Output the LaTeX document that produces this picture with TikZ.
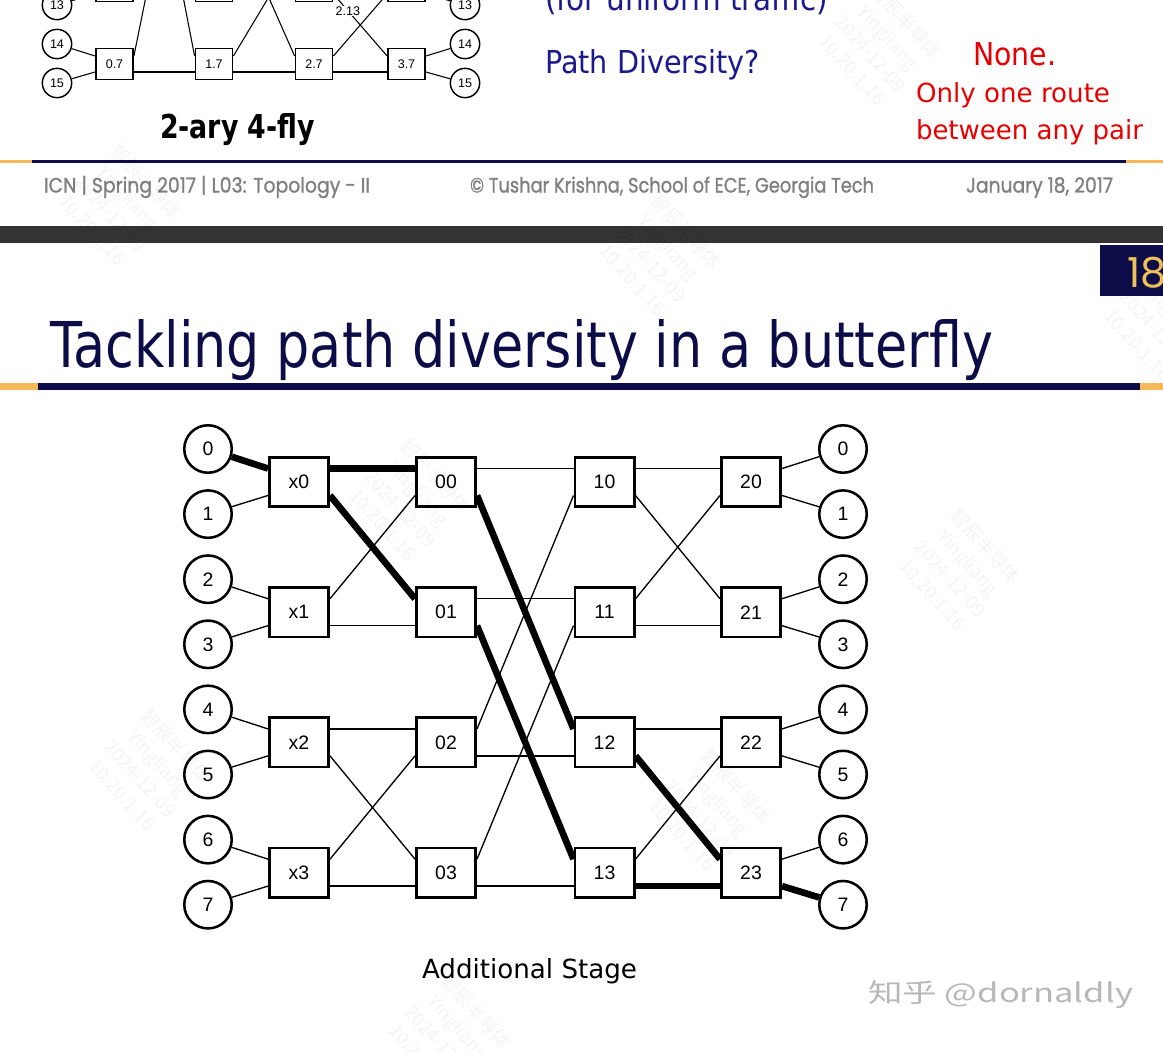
\documentclass[tikz,border=0pt]{standalone}
\usepackage{fontspec}
\usepackage{graphicx}
\setmainfont{DejaVu Sans}
\newfontfamily\helv{Liberation Sans}
\newfontfamily\gothic{Poppins}
\newfontfamily\gothicsb{Poppins}[FakeBold=1.2]
\newfontfamily\cjk{Noto Sans CJK SC}
\usetikzlibrary{calc}
\pgfdeclarelayer{paper}\pgfdeclarelayer{bg}\pgfdeclarelayer{fg}\pgfsetlayers{paper,bg,main,fg}
\newlength\pxu\setlength\pxu{0.75pt}
\newcommand\fitbox[3]{\resizebox{#1\pxu}{#2\pxu}{#3}}
\newcommand\fitw[2]{\resizebox{#1\pxu}{\height}{#2}}
\definecolor{slnavy}{RGB}{12,12,72}
\definecolor{slorange}{RGB}{247,184,90}
\definecolor{band}{RGB}{51,51,51}
\definecolor{footgray}{RGB}{128,128,128}
\definecolor{qblue}{RGB}{26,26,140}
\definecolor{ansred}{RGB}{232,0,0}
\definecolor{pggold}{RGB}{240,192,90}
\begin{document}
\begin{tikzpicture}[x=0.75pt,y=-0.75pt,
 term/.style={circle,draw,line width=1.9pt,minimum size=35.6pt,inner sep=0pt,fill=white,font=\helv\fontsize{14.6pt}{16pt}\selectfont},
 sw/.style={rectangle,draw,line width=1.9pt,minimum width=44.6pt,minimum height=37.1pt,inner sep=0pt,fill=white,font=\helv\fontsize{14.6pt}{16pt}\selectfont},
 sterm/.style={circle,draw,line width=1.1pt,minimum size=22pt,inner sep=0pt,fill=white,font=\helv\fontsize{9.4pt}{10pt}\selectfont},
 ssw/.style={rectangle,draw,line width=1.1pt,minimum width=28pt,minimum height=23pt,inner sep=0pt,fill=white,font=\helv\fontsize{9.4pt}{10pt}\selectfont},
 lnk/.style={line width=1pt},
 hot/.style={line width=5pt},
 slnk/.style={line width=0.8pt},
 txt/.style={anchor=base west,inner sep=0pt,outer sep=0pt},
 foot/.style={txt,text=footgray,font=\gothicsb\fontsize{15.6pt}{17pt}\selectfont},
 wm/.style={rotate=-48,align=center,text=black,text opacity=0.045,font=\cjk\fontsize{14pt}{18pt}\selectfont}
]
\useasboundingbox (0,0) rectangle (1163,1051);
\begin{pgfonlayer}{paper}
\fill[white] (0,0) rectangle (1163,1051);
\end{pgfonlayer}

% ---------- bars ----------
\fill[slorange] (0,159.5) rectangle (32,162.5);
\fill[slnavy] (32,159.5) rectangle (1126,162.5);
\fill[slorange] (1126,159.5) rectangle (1163,162.5);
\fill[band] (0,226) rectangle (1163,243);
\fill[slnavy] (1100,245) rectangle (1163,296);
\fill[slorange] (0,383) rectangle (38,390);
\fill[slnavy] (38,383) rectangle (1140,390);
\fill[slorange] (1140,383) rectangle (1163,390);

% ---------- texts of the upper slide ----------
\node[txt,text=qblue] (uni) at (545,10) {\fitbox{283}{25}{(for uniform traffic)}};
\node[txt,text=qblue] (pd) at (545,73) {\fitbox{215}{24}{Path Diversity?}};
\node[txt,text=ansred] (none) at (973,65) {\fitbox{83}{23}{None.}};
\node[txt,text=ansred] (only) at (916,102) {\fitbox{194}{20}{Only one route}};
\node[txt,text=ansred] (betw) at (916,139.5) {\fitbox{227}{20}{between any pair}};
\node[txt] (fly) at (160,138) {\fitbox{155}{25}{\bfseries 2-ary 4-fly}};
\node[foot] (f1) at (44,192.5) {\fitw{326}{ICN | Spring 2017 | L03: Topology - II}};
\node[foot] (f2) at (470,192.5) {\fitw{404}{© Tushar Krishna, School of ECE, Georgia Tech}};
\node[foot] (f3) at (966,192.5) {\fitw{147}{January 18, 2017}};

% ---------- lower slide texts ----------
\node[txt,text=pggold,font=\gothic\fontsize{31pt}{34pt}\selectfont] (pg) at (1127,287) {18};
\node[txt,text=slnavy] (title) at (50,367) {\fitbox{943}{48}{Tackling path diversity in a butterfly}};
\node[txt] (add) at (422,978) {\fitbox{215}{20}{Additional Stage}};
\node[txt,text=black!28,font=\cjk\fontsize{19.5pt}{22pt}\selectfont] (zh) at (868,1002) {\fitw{265}{知乎 @dornaldly}};

% ---------- top snippet: 2-ary 4-fly ----------
\node[sterm] (tl13) at (57,5) {13};
\node[sterm] (tl14) at (57,44) {14};
\node[sterm] (tl15) at (57,83) {15};
\node[sterm] (tr13) at (465,5) {13};
\node[sterm] (tr14) at (465,44) {14};
\node[sterm] (tr15) at (465,83) {15};
\node[ssw] (t06) at (114.5,-14) {0.6};
\node[ssw] (t07) at (114.5,64) {0.7};
\node[ssw] (t16) at (214,-14) {1.6};
\node[ssw] (t17) at (214,64) {1.7};
\node[ssw] (t26) at (314,-14) {2.6};
\node[ssw] (t27) at (314,64) {2.7};
\node[ssw] (t36) at (406.5,-14) {3.6};
\node[ssw] (t37) at (406.5,64) {3.7};
\foreach \n in {t06,t07,t16,t17,t26,t27,t36,t37} {
  \coordinate (\n-ul) at ([yshift=6pt]\n.west);
  \coordinate (\n-ll) at ([yshift=-6pt]\n.west);
  \coordinate (\n-ur) at ([yshift=6pt]\n.east);
  \coordinate (\n-lr) at ([yshift=-6pt]\n.east);
}
\coordinate (e1) at (194,-240);
\coordinate (e2) at (134,-256);
\coordinate (e3) at (279,-20);
\coordinate (e4) at (261,-20);

% ---------- bottom diagram ----------
\foreach \i in {0,...,7} {
  \node[term] (L\i) at (208,{449+65.1*\i}) {\i};
  \node[term] (R\i) at (843,{449+65.1*\i}) {\i};
}
\foreach \i in {0,...,3} {
  \node[sw] (X\i) at (299,{482+130.2*\i}) {x\i};
  \node[sw] (A\i) at (446,{482+130.2*\i}) {0\i};
  \node[sw] (B\i) at (604.5,{482+130.2*\i}) {1\i};
  \node[sw] (C\i) at (751,{482+130.2*\i}) {2\i};
}
\foreach \n in {X0,X1,X2,X3,A0,A1,A2,A3,B0,B1,B2,B3,C0,C1,C2,C3} {
  \coordinate (\n-ul) at ([yshift=10.1pt]\n.west);
  \coordinate (\n-ll) at ([yshift=-10.1pt]\n.west);
  \coordinate (\n-ur) at ([yshift=10.1pt]\n.east);
  \coordinate (\n-lr) at ([yshift=-10.1pt]\n.east);
}

\begin{pgfonlayer}{bg}
% top snippet links
\draw[slnk] (tl13) -- (t06-ll);
\draw[slnk] (tl14) -- (t07-ul);
\draw[slnk] (tl15) -- (t07-ll);
\draw[slnk] (t07-ur) -- (e1);
\draw[slnk] (e2) -- (t17-ul);
\draw[slnk] (t07-lr) -- (t17-ll);
\draw[slnk] (t17-ur) -- (e3);
\draw[slnk] (e4) -- (t27-ul);
\draw[slnk] (t17-lr) -- (t27-ll);
\draw[slnk] (t27-ur) -- (t36-ll);
\draw[slnk] (t26-lr) -- node[pos=0.27,fill=white,inner sep=0.6pt,font=\helv\fontsize{9.4pt}{10pt}\selectfont] (lab) {2.13} (t37-ul);
\draw[slnk] (t27-lr) -- (t37-ll);
\draw[slnk] (t36-lr) -- (tr13);
\draw[slnk] (t37-ur) -- (tr14);
\draw[slnk] (t37-lr) -- (tr15);
% bottom links
\foreach \a/\b in {L1/X0-ll,L2/X1-ul,L3/X1-ll,L4/X2-ul,L5/X2-ll,L6/X3-ul,L7/X3-ll,
 X1-ur/A0-ll,X1-lr/A1-ll,X2-ur/A2-ul,X2-lr/A3-ul,X3-ur/A2-ll,X3-lr/A3-ll,
 A0-ur/B0-ul,A1-ur/B1-ul,A2-ur/B0-ll,A2-lr/B2-ll,A3-ur/B1-ll,A3-lr/B3-ll,
 B0-ur/C0-ul,B0-lr/C1-ul,B1-ur/C0-ll,B1-lr/C1-ll,B2-ur/C2-ul,B3-ur/C2-ll,
 C0-ur/R0,C0-lr/R1,C1-ur/R2,C1-lr/R3,C2-ur/R4,C2-lr/R5,C3-ur/R6}
 \draw[lnk] (\a) -- (\b);
\foreach \a/\b in {L0/X0-ul,X0-ur/A0-ul,X0-lr/A1-ul,A0-lr/B2-ul,A1-lr/B3-ul,B2-lr/C3-ul,B3-lr/C3-ll,C3-lr/R7}
 \draw[hot] (\a) -- (\b);
\end{pgfonlayer}

% ---------- faint watermarks ----------
\begin{pgfonlayer}{fg}
\foreach \p [count=\k] in {(120,205),(660,255),(960,570),(410,500),(150,770),(710,810),(450,1035),(1165,320),(880,45)}
  \node[wm] (wm\k) at \p {智辰半导体\\Yingliang\\2024-12-09\\10.20.1.16};
\end{pgfonlayer}
\end{tikzpicture}
\end{document}
